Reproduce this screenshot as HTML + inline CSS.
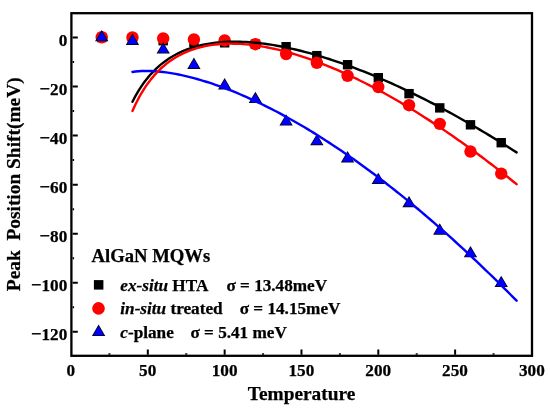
<!DOCTYPE html>
<html lang="en"><head><meta charset="utf-8"><title>Peak Position Shift vs Temperature</title>
<style>html,body{margin:0;padding:0;background:#fff}body{width:550px;height:409px;position:relative;overflow:hidden}</style></head>
<body>
<svg width="550" height="409" viewBox="0 0 550 409" style="display:block;position:absolute;left:0;top:0">
<rect x="0" y="0" width="550" height="409" fill="#fff"/>
<rect x="97.03" y="32.80" width="9.4" height="9.4" fill="#000"/>
<rect x="127.76" y="33.54" width="9.4" height="9.4" fill="#000"/>
<rect x="158.49" y="35.99" width="9.4" height="9.4" fill="#000"/>
<rect x="189.22" y="37.70" width="9.4" height="9.4" fill="#000"/>
<rect x="219.95" y="38.10" width="9.4" height="9.4" fill="#000"/>
<rect x="250.68" y="39.54" width="9.4" height="9.4" fill="#000"/>
<rect x="281.41" y="42.00" width="9.4" height="9.4" fill="#000"/>
<rect x="312.14" y="50.95" width="9.4" height="9.4" fill="#000"/>
<rect x="342.87" y="60.02" width="9.4" height="9.4" fill="#000"/>
<rect x="373.60" y="73.02" width="9.4" height="9.4" fill="#000"/>
<rect x="404.33" y="88.96" width="9.4" height="9.4" fill="#000"/>
<rect x="435.06" y="103.19" width="9.4" height="9.4" fill="#000"/>
<rect x="465.79" y="120.11" width="9.4" height="9.4" fill="#000"/>
<rect x="496.52" y="138.01" width="9.4" height="9.4" fill="#000"/>
<circle cx="101.73" cy="37.25" r="6.2" fill="#ff0000"/>
<circle cx="132.46" cy="37.50" r="6.2" fill="#ff0000"/>
<circle cx="163.19" cy="38.48" r="6.2" fill="#ff0000"/>
<circle cx="193.92" cy="39.46" r="6.2" fill="#ff0000"/>
<circle cx="224.65" cy="40.49" r="6.2" fill="#ff0000"/>
<circle cx="255.38" cy="44.24" r="6.2" fill="#ff0000"/>
<circle cx="286.11" cy="54.05" r="6.2" fill="#ff0000"/>
<circle cx="316.84" cy="62.76" r="6.2" fill="#ff0000"/>
<circle cx="347.57" cy="75.76" r="6.2" fill="#ff0000"/>
<circle cx="378.30" cy="87.04" r="6.2" fill="#ff0000"/>
<circle cx="409.03" cy="105.19" r="6.2" fill="#ff0000"/>
<circle cx="439.76" cy="123.83" r="6.2" fill="#ff0000"/>
<circle cx="470.49" cy="151.54" r="6.2" fill="#ff0000"/>
<circle cx="501.22" cy="173.61" r="6.2" fill="#ff0000"/>
<path d="M101.73,29.90 L108.38,41.30 L95.08,41.30 Z" fill="#000"/><path d="M101.73,31.34 L107.12,40.58 L96.34,40.58 Z" fill="#0000ff"/>
<path d="M132.46,33.58 L139.11,44.98 L125.81,44.98 Z" fill="#000"/><path d="M132.46,35.02 L137.85,44.26 L127.07,44.26 Z" fill="#0000ff"/>
<path d="M163.19,42.16 L169.84,53.56 L156.54,53.56 Z" fill="#000"/><path d="M163.19,43.61 L168.58,52.84 L157.80,52.84 Z" fill="#0000ff"/>
<path d="M193.92,57.61 L200.57,69.01 L187.27,69.01 Z" fill="#000"/><path d="M193.92,59.06 L199.31,68.29 L188.53,68.29 Z" fill="#0000ff"/>
<path d="M224.65,78.09 L231.30,89.49 L218.00,89.49 Z" fill="#000"/><path d="M224.65,79.54 L230.04,88.77 L219.26,88.77 Z" fill="#0000ff"/>
<path d="M255.38,91.70 L262.03,103.10 L248.73,103.10 Z" fill="#000"/><path d="M255.38,93.15 L260.77,102.38 L249.99,102.38 Z" fill="#0000ff"/>
<path d="M286.11,114.14 L292.76,125.54 L279.46,125.54 Z" fill="#000"/><path d="M286.11,115.59 L291.50,124.82 L280.72,124.82 Z" fill="#0000ff"/>
<path d="M316.84,133.89 L323.49,145.29 L310.19,145.29 Z" fill="#000"/><path d="M316.84,135.33 L322.23,144.56 L311.45,144.56 Z" fill="#0000ff"/>
<path d="M347.57,151.05 L354.22,162.45 L340.92,162.45 Z" fill="#000"/><path d="M347.57,152.50 L352.96,161.73 L342.18,161.73 Z" fill="#0000ff"/>
<path d="M378.30,172.64 L384.95,184.04 L371.65,184.04 Z" fill="#000"/><path d="M378.30,174.08 L383.69,183.31 L372.91,183.31 Z" fill="#0000ff"/>
<path d="M409.03,195.93 L415.68,207.33 L402.38,207.33 Z" fill="#000"/><path d="M409.03,197.38 L414.42,206.61 L403.64,206.61 Z" fill="#0000ff"/>
<path d="M439.76,223.28 L446.41,234.68 L433.11,234.68 Z" fill="#000"/><path d="M439.76,224.72 L445.15,233.96 L434.37,233.96 Z" fill="#0000ff"/>
<path d="M470.49,245.97 L477.14,257.37 L463.84,257.37 Z" fill="#000"/><path d="M470.49,247.41 L475.88,256.64 L465.10,256.64 Z" fill="#0000ff"/>
<path d="M501.22,275.64 L507.87,287.04 L494.57,287.04 Z" fill="#000"/><path d="M501.22,277.08 L506.61,286.32 L495.83,286.32 Z" fill="#0000ff"/>
<path d="M132.46,101.78 L135.53,95.92 L138.61,90.65 L141.68,85.88 L144.75,81.56 L147.82,77.65 L150.90,74.08 L153.97,70.83 L157.04,67.87 L160.12,65.16 L163.19,62.68 L166.26,60.42 L169.34,58.35 L172.41,56.46 L175.48,54.73 L178.56,53.14 L181.63,51.70 L184.70,50.39 L187.77,49.20 L190.85,48.12 L193.92,47.14 L196.99,46.26 L200.07,45.48 L203.14,44.78 L206.21,44.17 L209.28,43.63 L212.36,43.16 L215.43,42.77 L218.50,42.44 L221.58,42.17 L224.65,41.97 L227.72,41.82 L230.80,41.73 L233.87,41.69 L236.94,41.70 L240.01,41.76 L243.09,41.87 L246.16,42.02 L249.23,42.21 L252.31,42.45 L255.38,42.73 L258.45,43.04 L261.53,43.40 L264.60,43.79 L267.67,44.22 L270.75,44.68 L273.82,45.17 L276.89,45.70 L279.96,46.26 L283.04,46.85 L286.11,47.47 L289.18,48.13 L292.26,48.81 L295.33,49.51 L298.40,50.25 L301.48,51.01 L304.55,51.80 L307.62,52.62 L310.69,53.46 L313.77,54.32 L316.84,55.21 L319.91,56.13 L322.99,57.07 L326.06,58.03 L329.13,59.01 L332.20,60.02 L335.28,61.04 L338.35,62.09 L341.42,63.16 L344.50,64.26 L347.57,65.37 L350.64,66.50 L353.72,67.65 L356.79,68.83 L359.86,70.02 L362.94,71.23 L366.01,72.46 L369.08,73.71 L372.15,74.98 L375.23,76.26 L378.30,77.57 L381.37,78.89 L384.45,80.23 L387.52,81.58 L390.59,82.96 L393.67,84.35 L396.74,85.76 L399.81,87.18 L402.88,88.62 L405.96,90.08 L409.03,91.56 L412.10,93.05 L415.18,94.55 L418.25,96.07 L421.32,97.61 L424.39,99.17 L427.47,100.73 L430.54,102.32 L433.61,103.92 L436.69,105.53 L439.76,107.16 L442.83,108.80 L445.91,110.46 L448.98,112.13 L452.05,113.82 L455.12,115.52 L458.20,117.23 L461.27,118.96 L464.34,120.71 L467.42,122.46 L470.49,124.23 L473.56,126.02 L476.64,127.81 L479.71,129.63 L482.78,131.45 L485.86,133.29 L488.93,135.14 L492.00,137.00 L495.07,138.88 L498.15,140.77 L501.22,142.67 L504.29,144.58 L507.37,146.51 L510.44,148.45 L513.51,150.41 L516.59,152.37" fill="none" stroke="#000" stroke-width="2.4" stroke-linecap="round" stroke-linejoin="round"/>
<path d="M132.46,71.95 L135.53,71.54 L138.61,71.25 L141.68,71.06 L144.75,70.97 L147.82,70.96 L150.90,71.04 L153.97,71.19 L157.04,71.40 L160.12,71.68 L163.19,72.02 L166.26,72.42 L169.34,72.87 L172.41,73.37 L175.48,73.92 L178.56,74.52 L181.63,75.16 L184.70,75.85 L187.77,76.57 L190.85,77.34 L193.92,78.14 L196.99,78.99 L200.07,79.86 L203.14,80.78 L206.21,81.73 L209.28,82.71 L212.36,83.73 L215.43,84.78 L218.50,85.86 L221.58,86.97 L224.65,88.11 L227.72,89.28 L230.80,90.48 L233.87,91.72 L236.94,92.98 L240.01,94.26 L243.09,95.58 L246.16,96.92 L249.23,98.29 L252.31,99.69 L255.38,101.12 L258.45,102.57 L261.53,104.04 L264.60,105.55 L267.67,107.07 L270.75,108.63 L273.82,110.20 L276.89,111.81 L279.96,113.43 L283.04,115.08 L286.11,116.76 L289.18,118.46 L292.26,120.18 L295.33,121.93 L298.40,123.70 L301.48,125.49 L304.55,127.30 L307.62,129.14 L310.69,131.00 L313.77,132.89 L316.84,134.79 L319.91,136.72 L322.99,138.67 L326.06,140.64 L329.13,142.63 L332.20,144.64 L335.28,146.68 L338.35,148.74 L341.42,150.82 L344.50,152.91 L347.57,155.03 L350.64,157.17 L353.72,159.34 L356.79,161.52 L359.86,163.72 L362.94,165.94 L366.01,168.18 L369.08,170.45 L372.15,172.73 L375.23,175.03 L378.30,177.35 L381.37,179.69 L384.45,182.06 L387.52,184.44 L390.59,186.83 L393.67,189.25 L396.74,191.69 L399.81,194.15 L402.88,196.62 L405.96,199.12 L409.03,201.63 L412.10,204.16 L415.18,206.71 L418.25,209.28 L421.32,211.87 L424.39,214.47 L427.47,217.10 L430.54,219.74 L433.61,222.40 L436.69,225.08 L439.76,227.77 L442.83,230.48 L445.91,233.21 L448.98,235.96 L452.05,238.73 L455.12,241.51 L458.20,244.31 L461.27,247.13 L464.34,249.96 L467.42,252.81 L470.49,255.68 L473.56,258.57 L476.64,261.47 L479.71,264.39 L482.78,267.32 L485.86,270.28 L488.93,273.24 L492.00,276.23 L495.07,279.23 L498.15,282.25 L501.22,285.28 L504.29,288.33 L507.37,291.40 L510.44,294.48 L513.51,297.58 L516.59,300.70" fill="none" stroke="#0000ff" stroke-width="2.4" stroke-linecap="round" stroke-linejoin="round"/>
<path d="M132.46,110.91 L135.53,104.23 L138.61,98.21 L141.68,92.78 L144.75,87.87 L147.82,83.42 L150.90,79.37 L153.97,75.68 L157.04,72.33 L160.12,69.26 L163.19,66.46 L166.26,63.91 L169.34,61.58 L172.41,59.45 L175.48,57.52 L178.56,55.75 L181.63,54.15 L184.70,52.69 L187.77,51.38 L190.85,50.19 L193.92,49.12 L196.99,48.17 L200.07,47.33 L203.14,46.59 L206.21,45.94 L209.28,45.38 L212.36,44.91 L215.43,44.52 L218.50,44.21 L221.58,43.97 L224.65,43.80 L227.72,43.70 L230.80,43.67 L233.87,43.69 L236.94,43.78 L240.01,43.92 L243.09,44.12 L246.16,44.37 L249.23,44.67 L252.31,45.02 L255.38,45.42 L258.45,45.87 L261.53,46.36 L264.60,46.90 L267.67,47.48 L270.75,48.09 L273.82,48.75 L276.89,49.45 L279.96,50.19 L283.04,50.96 L286.11,51.77 L289.18,52.62 L292.26,53.50 L295.33,54.42 L298.40,55.36 L301.48,56.34 L304.55,57.36 L307.62,58.40 L310.69,59.48 L313.77,60.58 L316.84,61.71 L319.91,62.88 L322.99,64.07 L326.06,65.29 L329.13,66.54 L332.20,67.81 L335.28,69.12 L338.35,70.44 L341.42,71.80 L344.50,73.18 L347.57,74.59 L350.64,76.02 L353.72,77.47 L356.79,78.95 L359.86,80.46 L362.94,81.98 L366.01,83.53 L369.08,85.11 L372.15,86.71 L375.23,88.33 L378.30,89.97 L381.37,91.63 L384.45,93.32 L387.52,95.03 L390.59,96.76 L393.67,98.51 L396.74,100.28 L399.81,102.08 L402.88,103.89 L405.96,105.73 L409.03,107.58 L412.10,109.46 L415.18,111.35 L418.25,113.27 L421.32,115.20 L424.39,117.16 L427.47,119.13 L430.54,121.12 L433.61,123.13 L436.69,125.16 L439.76,127.21 L442.83,129.28 L445.91,131.37 L448.98,133.47 L452.05,135.60 L455.12,137.74 L458.20,139.90 L461.27,142.07 L464.34,144.27 L467.42,146.48 L470.49,148.71 L473.56,150.96 L476.64,153.22 L479.71,155.50 L482.78,157.80 L485.86,160.12 L488.93,162.45 L492.00,164.80 L495.07,167.16 L498.15,169.55 L501.22,171.94 L504.29,174.36 L507.37,176.79 L510.44,179.24 L513.51,181.70 L516.59,184.18" fill="none" stroke="#ff0000" stroke-width="2.4" stroke-linecap="round" stroke-linejoin="round"/>
<rect x="71.4" y="13.2" width="460.6" height="342.6" fill="none" stroke="#000" stroke-width="2.3"/>
<path d="M109.41,354.7 V353.20 M147.82,354.7 V349.50 M186.24,354.7 V353.20 M224.65,354.7 V349.50 M263.06,354.7 V353.20 M301.48,354.7 V349.50 M339.89,354.7 V353.20 M378.30,354.7 V349.50 M416.71,354.7 V353.20 M455.12,354.7 V349.50 M493.54,354.7 V353.20 M72.6,37.50 H77.80 M72.6,62.03 H74.10 M72.6,86.55 H77.80 M72.6,111.08 H74.10 M72.6,135.60 H77.80 M72.6,160.12 H74.10 M72.6,184.65 H77.80 M72.6,209.18 H74.10 M72.6,233.70 H77.80 M72.6,258.23 H74.10 M72.6,282.75 H77.80 M72.6,307.28 H74.10 M72.6,331.80 H77.80" stroke="#000" stroke-width="2.0" fill="none"/>
<g font-family="'Liberation Serif', 'Times New Roman', serif" font-weight="bold" font-size="17.2px" fill="#000" stroke="#000" stroke-width="0.25">
<text x="70.9" y="376.2" text-anchor="middle">0</text>
<text x="147.7" y="376.2" text-anchor="middle">50</text>
<text x="224.6" y="376.2" text-anchor="middle">100</text>
<text x="301.4" y="376.2" text-anchor="middle">150</text>
<text x="378.2" y="376.2" text-anchor="middle">200</text>
<text x="455.0" y="376.2" text-anchor="middle">250</text>
<text x="531.9" y="376.2" text-anchor="middle">300</text>
<text x="67.3" y="45.6" text-anchor="end">0</text>
<text x="67.3" y="94.7" text-anchor="end"><tspan font-size="18.6px" dy="0.2">−</tspan><tspan dy="-0.2">20</tspan></text>
<text x="67.3" y="143.7" text-anchor="end"><tspan font-size="18.6px" dy="0.2">−</tspan><tspan dy="-0.2">40</tspan></text>
<text x="67.3" y="192.8" text-anchor="end"><tspan font-size="18.6px" dy="0.2">−</tspan><tspan dy="-0.2">60</tspan></text>
<text x="67.3" y="241.8" text-anchor="end"><tspan font-size="18.6px" dy="0.2">−</tspan><tspan dy="-0.2">80</tspan></text>
<text x="67.3" y="290.9" text-anchor="end"><tspan font-size="18.6px" dy="0.2">−</tspan><tspan dy="-0.2">100</tspan></text>
<text x="67.3" y="339.9" text-anchor="end"><tspan font-size="18.6px" dy="0.2">−</tspan><tspan dy="-0.2">120</tspan></text>
</g>
<g font-family="'Liberation Serif', 'Times New Roman', serif" font-weight="bold" fill="#000" stroke="#000" stroke-width="0.25">
<text x="301.6" y="400.0" text-anchor="middle" font-size="19.35px">Temperature</text>
<text transform="translate(19.7,184.3) rotate(-90)" text-anchor="middle" font-size="19.4px" xml:space="preserve">Peak  Position Shift(meV)</text>
<text x="91.6" y="261.8" font-size="18.66px">AlGaN MQWs</text>
<g font-size="17.2px">
<text x="120.3" y="290.6" xml:space="preserve"><tspan font-style="italic">ex-situ</tspan> HTA</text>
<text x="226.4" y="290.6">σ = 13.48meV</text>
<text x="120.3" y="314.2" xml:space="preserve"><tspan font-style="italic">in-situ</tspan> treated</text>
<text x="239.7" y="314.2">σ = 14.15meV</text>
<text x="120.3" y="338.1" xml:space="preserve"><tspan font-style="italic">c</tspan>-plane</text>
<text x="190.4" y="338.1">σ = 5.41 meV</text>
</g></g>
<rect x="93.9" y="280.1" width="9.5" height="9.5" fill="#000"/>
<circle cx="98.5" cy="308.4" r="6.3" fill="#ff0000"/>
<path d="M98.60,324.60 L105.25,336.00 L91.95,336.00 Z" fill="#000"/><path d="M98.60,326.04 L103.99,335.28 L93.21,335.28 Z" fill="#0000ff"/>
</svg>
</body></html>
